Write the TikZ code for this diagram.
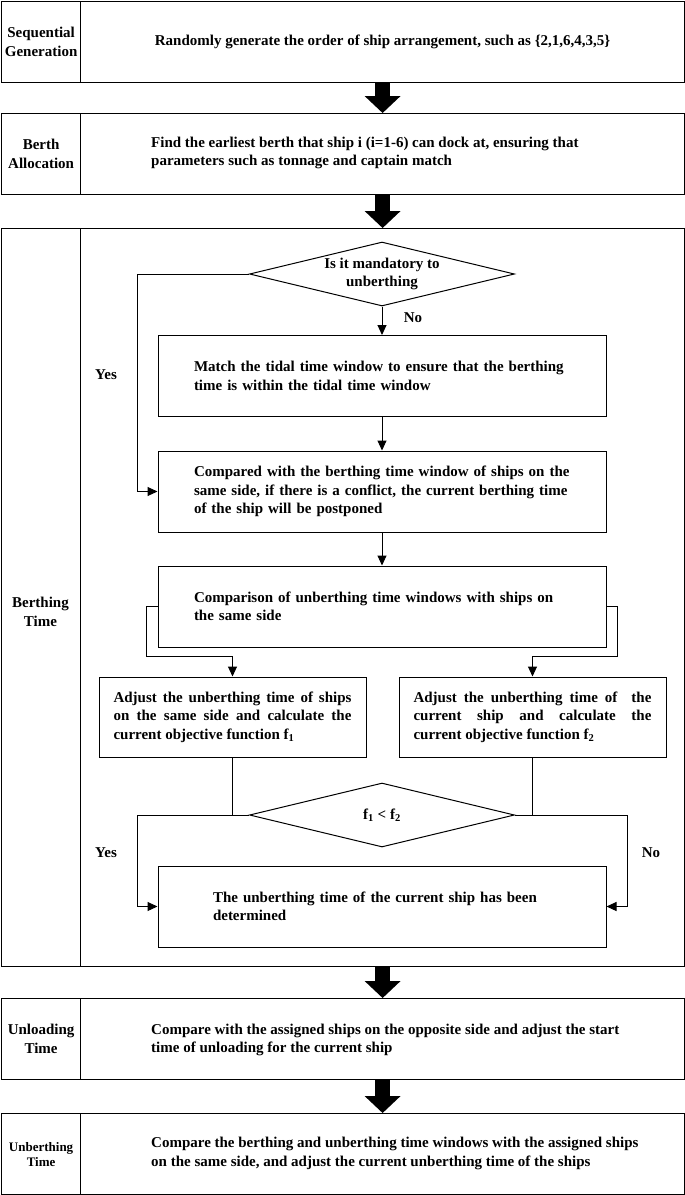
\documentclass[tikz,border=0pt]{standalone}
\usepackage{fontspec}
\setmainfont{Liberation Serif}
\usetikzlibrary{arrows.meta,shapes.geometric}
\tikzset{>={Triangle[length=10pt,width=9pt]}}
\tikzstyle{txt}=[font=\fontsize{15}{18.5}\selectfont\bfseries, inner sep=0pt]
\tikzstyle{rowbox}=[draw, line width=1.2pt, minimum height=81pt, inner sep=0pt, anchor=north west]
\tikzstyle{headcell}=[rowbox, minimum width=79pt, txt, align=center]
\tikzstyle{bodycell}=[rowbox, minimum width=604pt, txt, align=center]
\tikzstyle{stepbox}=[draw, line width=1pt, minimum width=448pt, minimum height=81pt,
   txt, align=left, text width=376pt, inner xsep=36pt]
\tikzstyle{halfbox}=[draw, line width=1pt, minimum width=267pt, minimum height=80pt,
   txt, align=justify, text width=238pt, inner xsep=14.5pt]
\tikzstyle{decide}=[diamond, draw, line width=1pt, aspect=4.14, minimum width=265pt,
   minimum height=64pt, txt, align=center]
\tikzstyle{flow}=[->, line width=1pt]
\tikzstyle{bigarrow}=[line width=15pt, -{Triangle[length=17pt,width=36pt,line width=0pt]}]

\begin{document}
\begin{tikzpicture}[x=1pt, y=-1pt]
   \useasboundingbox (0,0) rectangle (685,1195);
   % rows
   \node[headcell] (seqL) at (1,1) {Sequential\\Generation};
   \node[bodycell] (seq) at (80,1) {Randomly generate the order of ship arrangement, such as \{2,1,6,4,3,5\}};
   \node[headcell] (allocL) at (1,113) {Berth\\Allocation};
   \node[bodycell] (alloc) at (80,113) {};
   \node[txt, align=left, anchor=west] (allocT) at (151,153) {Find the earliest berth that ship i (i=1-6) can dock at, ensuring that\\parameters such as tonnage and captain match};
   \node[headcell, minimum height=738pt] (berthL) at (1,228) {};
   \node[txt, align=center] (berthT) at (40.5,612) {Berthing\\Time};
   \node[bodycell, minimum height=738pt] (berth) at (80,228) {};
   \node[headcell] (unloadL) at (1,998) {Unloading\\Time};
   \node[bodycell] (unload) at (80,998) {};
   \node[txt, align=left, anchor=west] (unloadT) at (151,1040) {Compare with the assigned ships on the opposite side and adjust the start\\time of unloading for the current ship};
   \node[headcell, font=\fontsize{13}{15}\selectfont\bfseries] (unberthL) at (1,1113) {Unberthing\\Time};
   \node[bodycell] (unberth) at (80,1113) {};
   \node[txt, align=left, anchor=west] (unberthT) at (151,1153.5) {Compare the berthing and unberthing time windows with the assigned ships\\on the same side, and adjust the current unberthing time of the ships};
   \draw[bigarrow] (seq.south) -- (alloc.north);
   \draw[bigarrow] (alloc.south) -- (berth.north);
   \draw[bigarrow] (berth.south) -- (unload.north);
   \draw[bigarrow] (unload.south) -- (unberth.north);
   % berthing time steps
   \node[decide] (mand) at (382,274) {Is it mandatory to\\unberthing};
   \node[stepbox] (tide) at (382,376) {Match the tidal time window to ensure that the berthing\\time is within the tidal time window};
   \node[stepbox] (conf) at (382,491.5) {Compared with the berthing time window of ships on the\\same side, if there is a conflict, the current berthing time\\of the ship will be postponed};
   \node[stepbox] (cmp) at (382,606.5) {Comparison of unberthing time windows with ships on\\the same side};
   \node[halfbox] (adjS) at (232.5,717) {Adjust the unberthing time of ships\linebreak on the same side and calculate the\linebreak current objective function f\textsubscript{1}};
   \node[halfbox] (adjC) at (532.5,717) {Adjust the unberthing time of \ the\linebreak current ship and calculate the\linebreak current objective function f\textsubscript{2}};
   \node[decide] (less) at (382,815) {f\textsubscript{1} < f\textsubscript{2}};
   \node[stepbox, text width=338pt, inner xsep=55pt] (done) at (382,906.5) {The unberthing time of the current ship has been\\determined};
   \node[txt] (yesA) at (106,375) {Yes};
   \node[txt] (noA) at (413,318) {No};
   \node[txt] (yesB) at (106,853) {Yes};
   \node[txt] (noB) at (651,853) {No};
   \draw[flow] (mand.south) -- (tide.north);
   \draw[flow] (mand.west) -| ([xshift=-20pt]conf.west) -- (conf.west);
   \draw[flow] (tide.south) -- (conf.north);
   \draw[flow] (conf.south) -- (cmp.north);
   \draw[flow] (cmp.west) -- ++(-11,0) |- ([yshift=20pt]adjS.north) -- (adjS.north);
   \draw[flow] (cmp.east) -- ++(11,0) |- ([yshift=20pt]adjC.north) -- (adjC.north);
   \draw[line width=1pt] (adjS.south) -- (adjS.south |- less.west);
   \draw[line width=1pt] (adjC.south) -- (adjC.south |- less.east);
   \draw[flow] (less.west) -| ([xshift=-20pt]done.west) -- (done.west);
   \draw[flow] (less.east) -| ([xshift=21pt]done.east) -- (done.east);
\end{tikzpicture}
\end{document}
